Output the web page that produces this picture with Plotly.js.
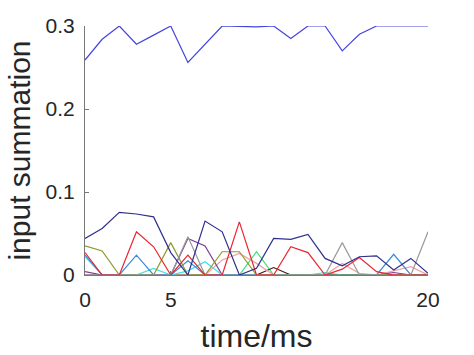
<!DOCTYPE html>
<html>
<head>
<meta charset="utf-8">
<script src="https://cdn.plot.ly/plotly-3.0.1.min.js"></script>
<style>html,body{margin:0;padding:0;background:#fff;}#chart{width:474px;height:355px;}</style>
</head>
<body>
<div id="chart"></div>
<script>
const time = [0,1,2,3,4,5,6,7,8,9,10,11,12,13,14,15,16,17,18,19,20];

const topBlue  = [0.259,0.284,0.300,0.278,0.289,0.300,0.256,0.278,0.300,0.2995,0.299,0.300,0.285,0.300,0.300,0.270,0.290,0.300,0.300,0.300,0.300];
const navy     = [0.044,0.056,0.0755,0.0735,0.070,0.027,0,0.065,0.052,0,0.008,0.044,0.043,0.049,0.020,0.011,0.022,0.023,0.006,0.020,0.002];
const red      = [0.027,0,0,0.052,0.034,0,0.024,0,0,0.064,0,0,0.034,0.027,0,0.007,0.021,0.004,0,0,0];
const olive    = [0.035,0.029,0,0,0,0.039,0,0,0.028,0.028,0,0,0,0,0,0,0,0,0,0,0];
const blue     = [0.024,0,0,0.024,0,0,0.017,0,0,0,0,0,0,0,0,0,0,0,0.025,0,0];
const cyan     = [0.022,0,0,0,0.008,0,0.005,0.016,0,0,0,0,0,0,0.003,0,0,0,0,0,0];
const gray     = [0,0,0,0,0,0,0.046,0,0,0,0,0,0,0,0,0.039,0,0,0,0,0.052];
const purple   = [0.004,0,0,0,0,0,0.044,0.035,0,0,0,0,0,0,0,0,0,0,0.003,0,0];
const pink     = [0,0,0,0,0,0,0,0,0.018,0.026,0.014,0,0,0,0,0.014,0.002,0,0.005,0.010,0];
const green    = [0,0,0,0,0,0,0,0,0,0,0.028,0,0,0,0,0,0,0,0,0,0];
const brown    = [0,0,0,0,0,0,0,0,0,0,0,0.009,0,0,0,0,0,0,0,0,0];

const series = [
  {y: green,  c: '#3ddc7c'},
  {y: brown,  c: '#4a1414'},
  {y: pink,   c: '#f2a0a0'},
  {y: purple, c: '#7d3c98'},
  {y: cyan,   c: '#3fe0e6'},
  {y: blue,   c: '#3d8be0'},
  {y: olive,  c: '#8c9a2c'},
  {y: gray,   c: '#9a9a9a'},
  {y: red,    c: '#ea2530'},
  {y: navy,   c: '#2f2f8f'},
  {y: topBlue,c: '#4444e0'}
];

const traces = series.map(s => ({
  x: time, y: s.y, type: 'scatter', mode: 'lines',
  line: {color: s.c, width: 1.2}, hoverinfo: 'skip'
}));

const fam = 'Liberation Sans, Arial, sans-serif';
const tickFont = {family: fam, size: 21, color: '#262626'};
const layout = {
  width: 474, height: 355,
  margin: {l: 85, r: 46, t: 26, b: 80, pad: 0},
  paper_bgcolor: '#fff', plot_bgcolor: '#fff',
  showlegend: false,
  xaxis: {
    range: [0, 20], tickvals: [0, 5, 20], ticktext: ['0', '5', '20'],
    ticks: 'inside', ticklen: 4, tickcolor: '#777', showline: true, linecolor: '#777', linewidth: 1,
    showgrid: false, zeroline: false, tickfont: tickFont, ticklabelstandoff: 6,
    title: {text: 'time/ms', font: {family: fam, size: 32, color: '#262626'}, standoff: 14}
  },
  yaxis: {
    range: [0, 0.3], tickvals: [0, 0.1, 0.2, 0.3], ticktext: ['0', '0.1', '0.2', '0.3'],
    ticks: 'inside', ticklen: 4, tickcolor: '#777', showline: true, linecolor: '#777', linewidth: 1,
    showgrid: false, zeroline: false, tickfont: tickFont, ticklabelstandoff: 5,
    title: {text: 'input summation', font: {family: fam, size: 30, color: '#262626'}, standoff: 6}
  }
};

Plotly.newPlot('chart', traces, layout, {displayModeBar: false, staticPlot: true});
</script>
</body>
</html>
